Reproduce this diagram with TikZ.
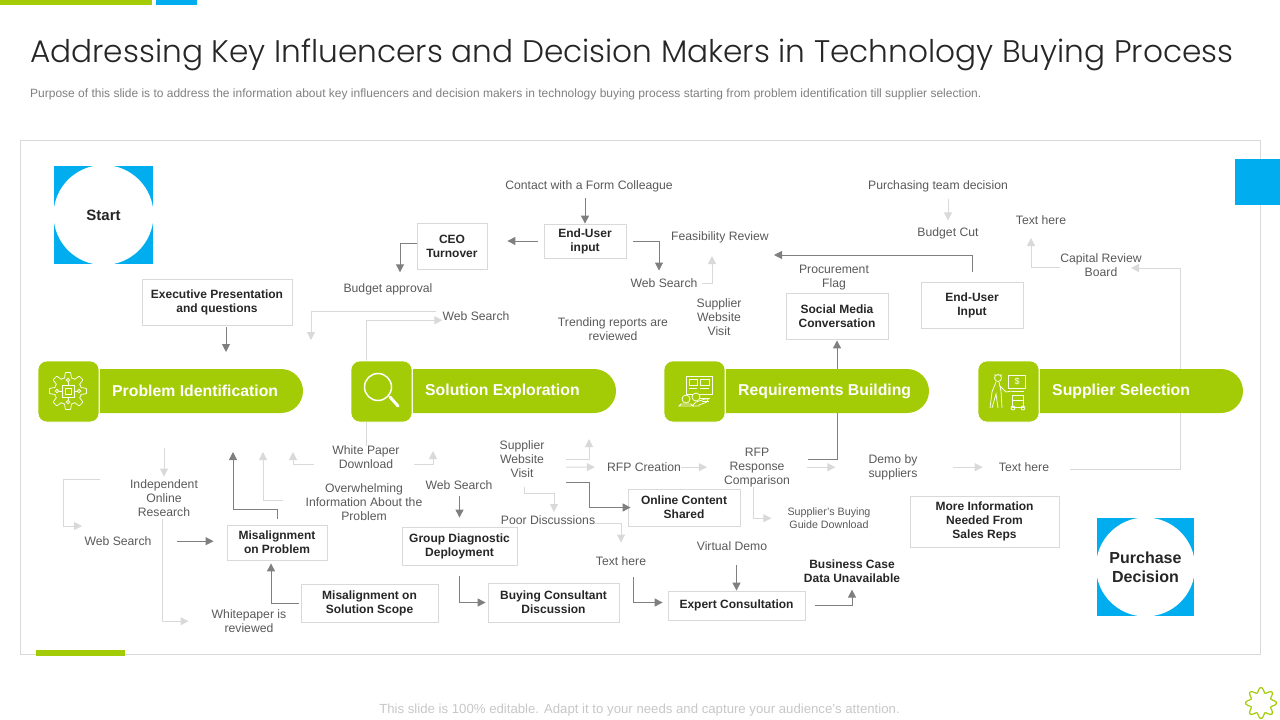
\documentclass[tikz,border=0pt]{standalone}
\usepackage{fontspec}
\setmainfont{Liberation Sans}
\newfontfamily\headfont[UprightFont={* Light}]{Poppins}
\usepackage{tikz}
\usetikzlibrary{arrows.meta}
\definecolor{leafgreen}{HTML}{A3CB06}
\definecolor{skyblue}{HTML}{00AEEF}
\definecolor{palegrey}{HTML}{D9D9D9}
\definecolor{midgrey}{HTML}{7F7F7F}
\definecolor{labelgrey}{HTML}{595959}
\definecolor{boxtext}{HTML}{262626}
\tikzset{
  stepbox/.style={draw=palegrey, line width=0.8pt, inner sep=0pt, align=center, text=boxtext, font=\fontsize{12}{14}\selectfont\bfseries},
  boldlabel/.style={inner sep=0pt, align=center, text=boxtext, font=\fontsize{12}{14}\selectfont\bfseries},
  steplabel/.style={inner sep=0pt, align=center, yshift=-0.2pt, text=labelgrey, font=\fontsize{12.2}{14}\selectfont},
  phaselabel/.style={inner sep=0pt, anchor=west, text=white, font=\fontsize{15.8}{18}\selectfont\bfseries},
  phaseicon/.style={draw=white, line width=0.6pt, fill=leafgreen, rounded corners=9pt, minimum size=61pt, inner sep=0pt},
  icon/.style={draw=white!92!leafgreen, line width=0.8pt},
  darkarrow/.style={draw=midgrey, line width=1pt, -{Triangle[length=8pt,width=8pt]}},
  lightarrow/.style={draw=palegrey, line width=1pt, -{Triangle[length=8pt,width=8pt]}},
  bluesquare/.style={fill=skyblue, inner sep=0pt},
  endcircle/.style={circle, fill=white, inner sep=0pt, align=center, text=boxtext}
}
\begin{document}
\begin{tikzpicture}[x=1pt,y=-1pt]
\useasboundingbox (0,0) rectangle (1280,720);
% slide furniture
\fill[leafgreen] (0,0) rectangle (152,5);
\fill[skyblue] (156,0) rectangle (197,5);
\draw[palegrey, line width=0.8pt] (20,140) rectangle (1260,654);
\fill[leafgreen] (36,650) rectangle (125,656);
\fill[skyblue] (1235,159) rectangle (1280,205);
\node[inner sep=0pt, anchor=base west, text=boxtext, font=\fontsize{31.2}{36}\selectfont\headfont] (title) at (30,62) {Addressing Key Influencers and Decision Makers in Technology Buying Process};
\node[inner sep=0pt, anchor=base west, text=midgrey, font=\fontsize{12}{14}\selectfont] (subtitle) at (30,97) {Purpose of this slide is to address the information about key influencers and decision makers in technology buying process starting from problem identification till supplier selection.};
\node[inner sep=0pt, text=palegrey!80!midgrey, font=\fontsize{13.2}{15}\selectfont] (footer) at (639.5,710) {This slide is 100\% editable. Adapt it to your needs and capture your audience's attention.};
\draw[leafgreen, line width=1.2pt] plot[smooth cycle, samples=72, domain=0:355] ({1261+(13+2.5*cos(8*\x))*cos(\x)},{703+(13+2.5*cos(8*\x))*sin(\x)});
% start and end
\node[bluesquare, minimum width=99pt, minimum height=98pt] (startSquare) at (103.5,215) {};
\node[endcircle, minimum size=100pt, font=\fontsize{15}{17}\selectfont\bfseries] (start) at (103.5,215) {Start};
\node[bluesquare, minimum width=97pt, minimum height=98pt] (purchaseSquare) at (1145.5,567) {};
\node[endcircle, minimum size=99pt, font=\fontsize{16}{19}\selectfont\bfseries] (purchase) at (1145.5,567) {Purchase\\Decision};
% boxes
\node[stepbox, minimum width=150pt, minimum height=46pt] (execBox) at (217,302) {Executive Presentation\\and questions};
\node[stepbox, minimum width=70pt, minimum height=46pt] (ceoBox) at (452,246) {CEO\\Turnover};
\node[stepbox, minimum width=82pt, minimum height=34pt] (inputBox) at (585,241) {End-User\\input};
\node[stepbox, minimum width=102pt, minimum height=46pt] (socialBox) at (837,316) {Social Media\\Conversation};
\node[stepbox, minimum width=102pt, minimum height=46pt] (userBox) at (972,305) {End-User\\Input};
\node[stepbox, minimum width=100pt, minimum height=35pt] (problemBox) at (277,542.5) {Misalignment\\on Problem};
\node[stepbox, minimum width=137pt, minimum height=38pt] (scopeBox) at (369.5,603) {Misalignment on\\Solution Scope};
\node[stepbox, minimum width=115pt, minimum height=38pt] (groupBox) at (459.5,546) {Group Diagnostic\\Deployment};
\node[stepbox, minimum width=131pt, minimum height=39pt] (buyingBox) at (553.5,602.5) {Buying Consultant\\Discussion};
\node[stepbox, minimum width=112pt, minimum height=37pt] (onlineBox) at (684,507.5) {Online Content\\Shared};
\node[stepbox, minimum width=137pt, minimum height=29pt] (expertBox) at (736.5,605.5) {Expert Consultation};
\node[stepbox, minimum width=149pt, minimum height=51pt] (moreBox) at (984.5,521.5) {More Information\\Needed From\\Sales Reps};
\node[boldlabel] (business) at (852,571) {Business Case\\Data Unavailable};
% labels
\node[steplabel] (contact) at (589,186) {Contact with a Form Colleague};
\node[steplabel] (feasibility) at (720,237) {Feasibility Review};
\node[steplabel] (webTop) at (664,283) {Web Search};
\node[steplabel] (budget) at (388,289) {Budget approval};
\node[steplabel] (webUpper) at (476,316) {Web Search};
\node[steplabel] (trending) at (613,329) {Trending reports are\\reviewed};
\node[steplabel] (visitTop) at (719,317) {Supplier\\Website\\Visit};
\node[steplabel] (flag) at (834,277) {Procurement\\Flag};
\node[steplabel] (purchasing) at (938,186) {Purchasing team decision};
\node[steplabel] (budgetCut) at (948,233) {Budget Cut};
\node[steplabel] (textTop) at (1041,220) {Text here};
\node[steplabel] (capital) at (1101,265) {Capital Review\\Board};
\node[steplabel] (whitePaper) at (366,457) {White Paper\\Download};
\node[steplabel] (independent) at (164,498) {Independent\\Online\\Research};
\node[steplabel] (webLeft) at (118,541) {Web Search};
\node[steplabel] (overwhelm) at (364,502) {Overwhelming\\Information About the\\Problem};
\node[steplabel] (webMid) at (459,485) {Web Search};
\node[steplabel] (visitLow) at (522,459) {Supplier\\Website\\Visit};
\node[steplabel] (rfpCreate) at (644,467) {RFP Creation};
\node[steplabel] (rfpResp) at (757,467) {RFP\\Response\\Comparison};
\node[steplabel] (demo) at (893,467) {Demo by\\suppliers};
\node[steplabel] (textRight) at (1024,467) {Text here};
\node[steplabel, font=\fontsize{10.7}{13}\selectfont] (guide) at (829,518) {Supplier's Buying\\Guide Download};
\node[steplabel] (poor) at (548,520) {Poor Discussions};
\node[steplabel] (textMid) at (621,561) {Text here};
\node[steplabel] (virtual) at (732,546) {Virtual Demo};
\node[steplabel] (whitepaper) at (249,621) {Whitepaper is\\reviewed};
% free ends
\coordinate (execTip) at (226,352); \coordinate (feasTip) at (774,255);
\coordinate (problemTip) at (233,452); \coordinate (rfpStart) at (808,459);
\coordinate (visitA) at (566,459); \coordinate (visitB) at (566,467); \coordinate (visitC) at (566,482);
\coordinate (visitUp) at (589,439); \coordinate (poorStart) at (524,487); \coordinate (poorTip) at (554,512);
\coordinate (indepStart) at (163,448); \coordinate (loopStart) at (100,479); \coordinate (loopTip) at (82,526);
\coordinate (overStart) at (283,500); \coordinate (overTip) at (263,452);
\coordinate (paperLeft) at (314,464); \coordinate (paperLeftTip) at (293,452);
\coordinate (paperRight) at (414,464); \coordinate (paperRightTip) at (433,451);
\coordinate (upperStart) at (436,311); \coordinate (upperTip) at (311,340);
\coordinate (feasUp) at (712,256); \coordinate (textTopTip) at (1031,238); \coordinate (capitalTip) at (1131,268);
% dark connectors
\draw[darkarrow, shorten <=6pt] (inputBox |- contact.south) -- (inputBox.north);
\draw[darkarrow, shorten <=6pt, shorten >=20pt] (inputBox.west) -- (inputBox.west -| ceoBox.east);
\draw[darkarrow, shorten <=7pt, shorten >=8pt] (inputBox.east) -| ([xshift=-5pt]webTop.north);
\draw[darkarrow, shorten >=11pt] ([yshift=3pt]ceoBox.west) -| ([xshift=12pt]budget.north);
\draw[darkarrow, shorten <=2pt] ([xshift=9pt]execBox.south) -- (execTip);
\draw[darkarrow, shorten <=5pt] ([yshift=5pt]userBox.north) |- (feasTip);
\draw[darkarrow] ([yshift=6pt]problemBox.north) -- ++(0,-9) -| (problemTip);
\draw[darkarrow, shorten <=2pt, shorten >=3pt] (scopeBox.west) -| ([xshift=-6pt]problemBox.south);
\draw[darkarrow, shorten <=25pt, shorten >=13pt] (webLeft.east) -- (webLeft.east -| problemBox.west);
\draw[darkarrow, shorten <=6pt, shorten >=9pt] (groupBox |- webMid.south) -- (groupBox.north);
\draw[darkarrow, shorten <=11pt, shorten >=2pt] (groupBox.south) |- (buyingBox.west);
\draw[darkarrow, shorten <=11pt, shorten >=5pt] ([xshift=12pt]textMid.south) |- ([yshift=3pt]expertBox.west);
\draw[darkarrow, shorten <=14pt] (expertBox |- virtual.south) -- (expertBox.north);
\draw[darkarrow, shorten >=-3pt] (visitC) -- ++(23,0) |- (onlineBox.west);
\draw[darkarrow, shorten <=10pt, shorten >=7pt] (expertBox.east) -| (business.south);
\draw[darkarrow, shorten >=1pt] (rfpStart) -| (socialBox.south);
% light connectors
\draw[lightarrow, shorten >=3pt] (independent.north |- indepStart) -- (independent.north);
\draw[lightarrow] (loopStart) -- ++(-37,0) |- (loopTip);
\draw[lightarrow, shorten <=2pt, shorten >=23pt] ([xshift=-1.5pt]independent.south) |- (whitepaper.west);
\draw[lightarrow] (overStart) -| (overTip);
\draw[lightarrow] (paperLeft) -| (paperLeftTip);
\draw[lightarrow] (paperRight) -| (paperRightTip);
\draw[lightarrow] (whitePaper.north) |- ([yshift=-4pt]webUpper.west);
\draw[lightarrow] (upperStart) -| (upperTip);
\draw[lightarrow, shorten <=4pt] (webTop.east) -| (feasUp);
\draw[lightarrow, shorten <=7pt, shorten >=7pt] (budgetCut |- purchasing.south) -- (budgetCut.north);
\draw[lightarrow] ([yshift=-2pt]capital.west) -| (textTopTip);
\draw[lightarrow, shorten <=21pt] ([yshift=-2pt]textRight.east) -- ++(131,0) |- (capitalTip);
\draw[lightarrow, shorten <=35pt, shorten >=16pt] (demo.east) -- (textRight.west);
\draw[lightarrow, shorten <=17pt, shorten >=33pt] (rfpResp.east) -- (demo.west);
\draw[lightarrow, shorten >=17pt] (rfpCreate.east) -- (rfpResp.west);
\draw[lightarrow, shorten >=12pt] (visitB) -- (rfpCreate.west);
\draw[lightarrow] (visitA) -| (visitUp);
\draw[lightarrow] (poorStart) -- ++(0,6) -| (poorTip);
\draw[lightarrow, shorten >=14pt] ([yshift=-3pt]poor.east) -| (textMid.north);
\draw[lightarrow, shorten >=16pt] ([xshift=-4pt]rfpResp.south) |- (guide.west);
% phases
\foreach \x/\nm/\lab in {38/problem/Problem Identification, 351/solution/Solution Exploration, 664/requirements/Requirements Building, 978/supplier/Supplier Selection}{
  \fill[leafgreen] (\x+62,369) -- (\x+243,369) arc[start angle=90, end angle=-90, radius=22pt] -- (\x+62,413) -- cycle;
  \node[phaseicon] (\nm Icon) at (\x+30.5,391.5) {};
  \node[phaselabel] (\nm Label) at (\x+74,391) {\lab};
}
% problem icon
\draw[icon] plot[samples=145, domain=0:360] ({68+(16+2.5*max(-1,min(1,2.5*cos(8*\x))))*cos(\x)},{391+(16+2.5*max(-1,min(1,2.5*cos(8*\x))))*sin(\x)});
\draw[icon] (62,385) rectangle (74,397) (65,388) rectangle (71,394);
\draw[icon] (68,385) -- (68,382) (68,397) -- (68,400) (62,391) -- (59,391) (74,391) -- (77,391);
\foreach \a/\b in {68/380, 68/402, 57/391, 79/391}{ \draw[icon] (\a,\b) circle[radius=1.7pt]; }
% solution icon
\draw[white, line width=1.5pt] (378,387) circle[radius=13.5pt];
\draw[white, line width=3pt, line cap=round] (390,397) -- (398,406);
% requirements icon
\draw[icon] (686,376) rectangle (712,394);
\draw[icon] (689,379) rectangle (697,385) (700,379) rectangle (709,385) (689,388) -- (697,388) (700,388) -- (709,388);
\draw[icon, fill=leafgreen] (686,399) circle[radius=4pt] (696,397) circle[radius=4pt];
\draw[icon, fill=leafgreen] (679,406) -- (681,404) -- (691,404) -- (693,406) -- (693,405) -- (696,402) -- (705,399) -- (708,399) -- (707,402) -- (699,405) -- (699,406) -- cycle;
\draw[icon] (700,398) -- (710,398) (702,401) -- (709,401);
% supplier icon
\draw[icon] (998,378) circle[radius=3.5pt] (994,375) -- (1002,375);
\draw[icon] (996,382) -- (992,392) -- (990,408) (999,382) -- (1001,391) -- (1002,408) (999,385) -- (1006,392) -- (1012,391) (992,408) -- (996,394) -- (998,408);
\draw[icon] (1008,375) rectangle (1025,388);
\node[inner sep=0pt, text=white, font=\fontsize{9}{10}\selectfont] (dollar) at (1017,381.5) {\$};
\draw[icon] (1012,391) -- (1024,391) (1012,395) rectangle (1023,407) (1012,400) -- (1023,400);
\draw[icon] (1013,408) circle[radius=2pt] (1023,408) circle[radius=2pt];
\end{tikzpicture}
\end{document}
